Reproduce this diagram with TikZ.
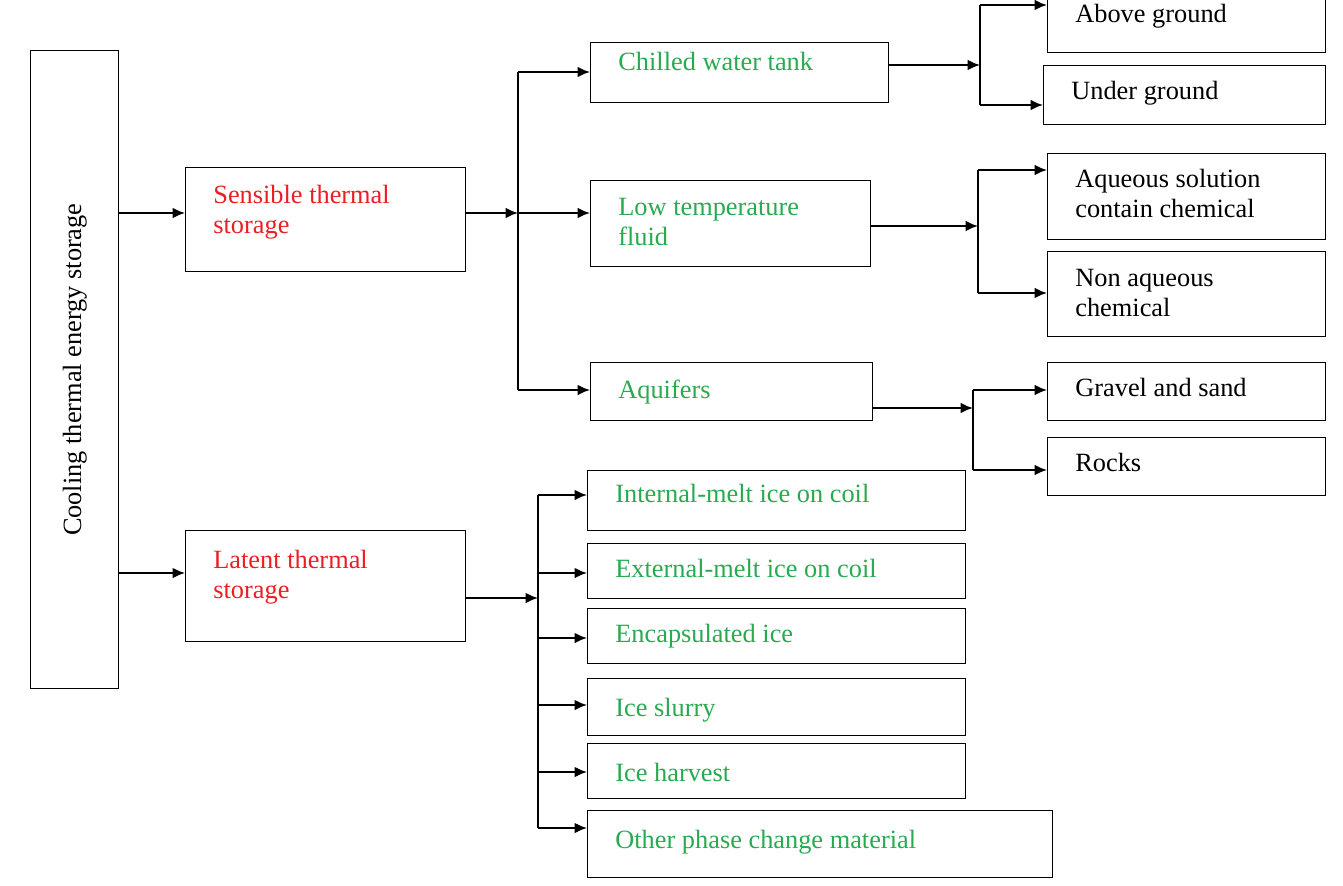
\documentclass[tikz,border=0pt]{standalone}
\usepackage{fontspec}
\setmainfont{Liberation Serif}
\usetikzlibrary{arrows.meta}
\definecolor{grn}{RGB}{40,170,80}
\definecolor{rd}{RGB}{235,30,35}
\begin{document}
\begin{tikzpicture}[x=0.02cm,y=-0.02cm,
  box/.style={draw,line width=0.8pt,anchor=north west,inner sep=0pt},
  lbl/.style={anchor=north west,align=left,inner sep=0pt,font=\fontsize{15}{17}\selectfont},
  con/.style={line width=1.1pt},
  arr/.style={con,-{Latex[length=7pt,width=6pt]}}]
\useasboundingbox (0,0) rectangle (1343,886);
% box macro: name, x, y, w, h, text offset y, colour, text
\newcommand\bx[8]{%
  \node[box,minimum width=#4*0.02cm,minimum height=#5*0.02cm] (#1) at (#2,#3) {};
  \node[lbl,text=#7] (#1t) at (#2+28,#3+#6) {#8};}
% root
\node[box,minimum width=88*0.02cm,minimum height=638*0.02cm] (root) at (30,50) {};
\node[rotate=90,font=\fontsize{15}{17}\selectfont] (roott) at (root.center) {Cooling thermal energy storage};
\bx{sen}{185}{167}{280}{104}{18}{rd}{Sensible thermal\\storage}
\bx{lat}{185}{530}{280}{111}{20}{rd}{Latent thermal\\storage}
\bx{chw}{590}{42}{298}{60}{10}{grn}{Chilled water tank}
\bx{ltf}{590}{180}{280}{86}{18}{grn}{Low temperature\\fluid}
\bx{aqu}{590}{362}{282}{58}{18}{grn}{Aquifers}
\bx{abg}{1047}{-2}{278}{54}{6}{black}{Above ground}
\bx{ung}{1043}{65}{282}{59}{16}{black}{Under ground}
\bx{aqs}{1047}{153}{278}{86}{16}{black}{Aqueous solution\\contain chemical}
\bx{nac}{1047}{251}{278}{85}{18}{black}{Non aqueous\\chemical}
\bx{grs}{1047}{362}{278}{58}{16}{black}{Gravel and sand}
\bx{rck}{1047}{437}{278}{58}{16}{black}{Rocks}
\bx{imc}{587}{470}{378}{60}{14}{grn}{Internal-melt ice on coil}
\bx{emc}{587}{543}{378}{55}{16}{grn}{External-melt ice on coil}
\bx{enc}{587}{608}{378}{55}{16}{grn}{Encapsulated ice}
\bx{isl}{587}{678}{378}{57}{20}{grn}{Ice slurry}
\bx{ihv}{587}{743}{378}{55}{20}{grn}{Ice harvest}
\bx{opc}{587}{810}{465}{67}{20}{grn}{Other phase change material}
% branch points
\coordinate (bs) at (518,213);
\coordinate (bc) at (980,65);
\coordinate (bl) at (978,226);
\coordinate (ba) at (973,408);
\coordinate (bt) at (538,598);
% root to level 1
\draw[arr] (root.east |- 0,213) -- (sen.west |- 0,213);
\draw[arr] (root.east |- 0,573) -- (lat.west |- 0,573);
% sensible
\draw[arr] (sen.east |- bs) -- (bs);
\draw[con] (518,72) -- (518,390);
\draw[arr] (518,72) -- (chw.west |- 0,72);
\draw[arr] (bs) -- (ltf.west |- bs);
\draw[arr] (518,390) -- (aqu.west |- 0,390);
% chilled
\draw[arr] (chw.east |- bc) -- (bc);
\draw[con] (980,5) -- (980,105);
\draw[arr] (980,5) -- (abg.west |- 0,5);
\draw[arr] (980,105) -- (ung.west |- 0,105);
% low temperature
\draw[arr] (ltf.east |- bl) -- (bl);
\draw[con] (978,170) -- (978,293);
\draw[arr] (978,170) -- (aqs.west |- 0,170);
\draw[arr] (978,293) -- (nac.west |- 0,293);
% aquifers
\draw[arr] (aqu.east |- ba) -- (ba);
\draw[con] (973,390) -- (973,470);
\draw[arr] (973,390) -- (grs.west |- 0,390);
\draw[arr] (973,470) -- (rck.west |- 0,470);
% latent
\draw[arr] (lat.east |- bt) -- (bt);
\draw[con] (538,495) -- (538,828);
\draw[arr] (538,495) -- (imc.west |- 0,495);
\draw[arr] (538,573) -- (emc.west |- 0,573);
\draw[arr] (538,638) -- (enc.west |- 0,638);
\draw[arr] (538,705) -- (isl.west |- 0,705);
\draw[arr] (538,772) -- (ihv.west |- 0,772);
\draw[arr] (538,828) -- (opc.west |- 0,828);
\end{tikzpicture}
\end{document}
